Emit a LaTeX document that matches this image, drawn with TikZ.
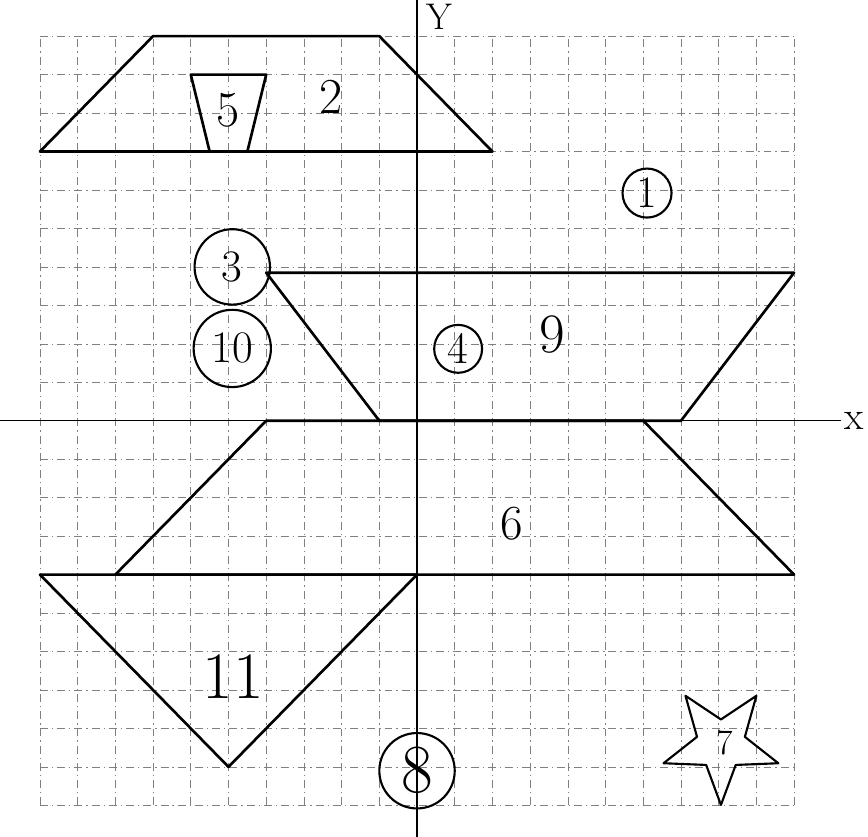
\documentclass[tikz,border=0pt]{standalone}
\usepackage{tikz}
\usetikzlibrary{shapes.geometric}
\begin{document}
\begin{tikzpicture}[x=1cm,y=1.02cm,
	gridline/.style={black!50,line width=0.5pt,dash pattern=on 6pt off 3pt on 1pt off 3pt},
	figline/.style={line width=2pt,line join=round},
	ring/.style={draw,circle,line width=1.6pt,inner sep=0pt},
	num/.style={font=\fontsize{#1}{#1}\selectfont,inner sep=0pt}]
	\useasboundingbox (-11.06,-10.81) rectangle (11.96,10.94);
	% grid paper
	\foreach \i in {-10,...,10} {
		\draw[gridline] (\i,-10) -- (\i,10);
		\draw[gridline] (-10,\i) -- (10,\i);
	}
	% axes
	\coordinate (xl) at (-11.06,0);
	\coordinate (xr) at (11.25,0);
	\coordinate (yb) at (0,-10.81);
	\coordinate (yt) at (0,10.94);
	\draw[line width=0.9pt] (xl) -- (xr) node[right,num=30,xshift=2pt] (xlab) {x};
	\draw[line width=0.9pt] (yb) -- (yt);
	\node[num=28] (ylab) at (0.58,10.5) {Y};
	% shapes
	\draw[figline] (-10,7) -- (-7,10) -- (-1,10) -- (2,7) -- cycle;
	\draw[figline] (-6,9) -- (-4,9) -- (-4.5,7) -- (-5.5,7) -- cycle;
	\draw[figline] (-4,3.85) -- (10,3.85) -- (7,0) -- (-1,0) -- cycle;
	\draw[figline] (-4,0) -- (6,0) -- (10,-4) -- (-8,-4) -- cycle;
	\draw[figline] (-10,-4) -- (0,-4) -- (-5,-9) -- cycle;
	\node[draw,star,star points=5,star point ratio=2.4,minimum size=3.2cm,inner sep=0pt,
		rotate=180,line width=1.6pt,line join=round] (star7) at (8.06,-8.42) {};
	% circled numbers
	\node[ring,num=34,minimum size=2cm] (c3) at (-4.9,4.0) {3};
	\node[ring,num=34,minimum size=2.05cm] (c10) at (-4.9,1.88) {10};
	\node[ring,num=34,minimum size=1.3cm] (c1) at (6.1,5.92) {1};
	\node[ring,num=34,minimum size=1.27cm] (c4) at (1.09,1.87) {4};
	\node[ring,num=52,minimum size=2cm] (c8) at (0,-9.1) {8};
	% plain numbers
	\node[num=38] (n5) at (-5,8.08) {5};
	\node[num=38] (n2) at (-2.27,8.43) {2};
	\node[num=42] (n9) at (3.58,2.23) {9};
	\node[num=37] (n6) at (2.5,-2.68) {6};
	\node[num=50] (n11) at (-4.88,-6.64) {11};
	\node[num=27] (n7) at (8.17,-8.36) {7};
\end{tikzpicture}
\end{document}
